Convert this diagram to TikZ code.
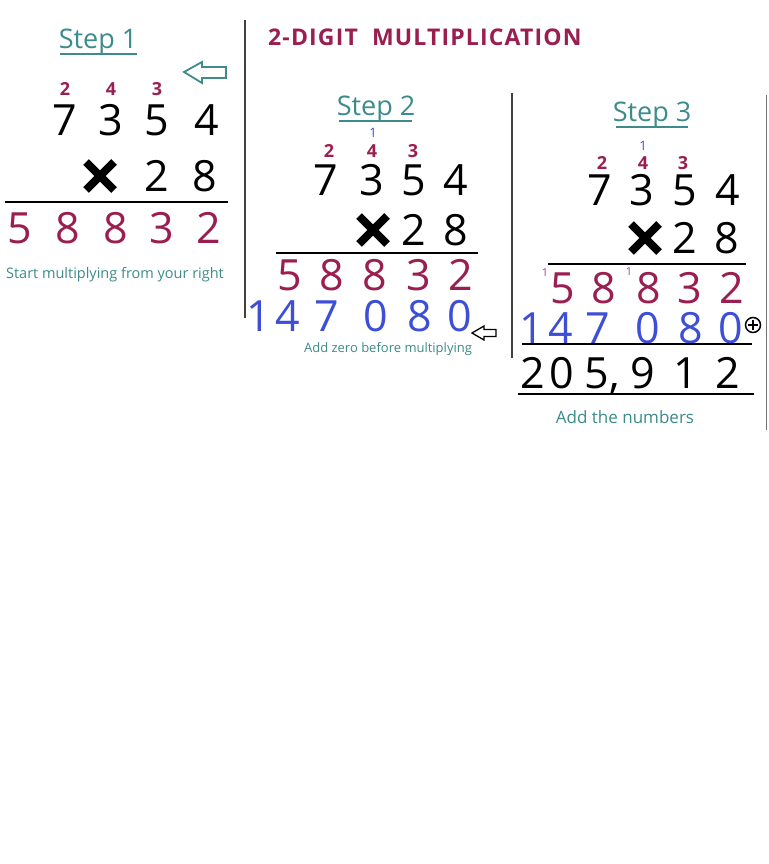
\documentclass[tikz,border=0pt]{standalone}
\usepackage{fontspec}
\setmainfont{Open Sans}
\usetikzlibrary{calc}
\definecolor{teal1}{HTML}{3D8B8B}
\definecolor{maroon1}{HTML}{9A1F50}
\definecolor{blue1}{HTML}{3C4FD6}
\definecolor{purp1}{HTML}{A040A0}
\begin{document}
\begin{tikzpicture}[x=1pt,y=-1pt,
  every node/.style={inner sep=0pt},
  big/.style={font=\fontsize{43}{43}\selectfont},
  bigr/.style={big,text=maroon1},
  bigb/.style={big,text=blue1},
  carry/.style={font=\fontsize{18}{18}\selectfont\bfseries,text=maroon1},
  carryb/.style={font=\fontsize{13}{13}\selectfont,text=blue1},
  steplbl/.style={font=\fontsize{27}{27}\selectfont,text=teal1},
  note/.style={font=\fontsize{14.5}{14.5}\selectfont,text=teal1},
  sep/.style={draw=black!75,line width=1.5pt},
  rule/.style={draw=black,line width=1.5pt},
  crossline/.style={line width=8pt,black},
  outarrow/.style={line width=1.8pt,line join=miter}]
\useasboundingbox (0,0) rectangle (768,864);
\fill[white] (0,0) rectangle (768,864);
% separators
\draw[sep] (245,20) -- (245,318);
\draw[sep] (512,93) -- (512,358);
\draw[draw=black!55,line width=1pt] (766,95) -- (766,430);
% title
\node[font=\fontsize{23}{23}\selectfont\bfseries\addfontfeatures{LetterSpace=5},text=maroon1,anchor=west] (title) at (268,37) {2-DIGIT\ \ MULTIPLICATION};

% ---------- Step 1 ----------
\node[steplbl] (s1) at (98,42) {Step 1};
\draw[teal1,line width=1.3pt] (60,54) -- (137,54);
\draw[outarrow,draw=teal1] (184,72) -- (202,62) -- (202,67) -- (226,67) -- (226,78) -- (202,78) -- (202,83) -- cycle;
\node[carry] (a1c1) at (65,89) {2};
\node[carry] (a1c2) at (111,89) {4};
\node[carry] (a1c3) at (157,89) {3};
\node[big] (a1d1) at (65,120) {7};
\node[big] (a1d2) at (111,120) {3};
\node[big] (a1d3) at (157,120) {5};
\node[big] (a1d4) at (207,120) {4};
\coordinate (x1) at (100,176);
\draw[crossline] ($(x1)+(-14,-14)$) -- ($(x1)+(14,14)$);
\draw[crossline] ($(x1)+(-14,14)$) -- ($(x1)+(14,-14)$);
\node[big] (a1m1) at (157,176) {2};
\node[big] (a1m2) at (205,176) {8};
\draw[rule] (5,202) -- (228,202);
\node[bigr] (a1r1) at (20,228) {5};
\node[bigr] (a1r2) at (68,228) {8};
\node[bigr] (a1r3) at (116,228) {8};
\node[bigr] (a1r4) at (162,228) {3};
\node[bigr] (a1r5) at (209,228) {2};
\node[note] (n1) at (115,275) {Start multiplying from your right};

% ---------- Step 2 ----------
\node[steplbl] (s2) at (376,109) {Step 2};
\draw[teal1,line width=1.3pt] (339,121) -- (412,121);
\node[carryb] (b1b) at (373,133) {1};
\node[carry] (b1c1) at (329,151) {2};
\node[carry] (b1c2) at (372,151) {4};
\node[carry] (b1c3) at (413,151) {3};
\node[big] (b1d1) at (326,180) {7};
\node[big] (b1d2) at (372,180) {3};
\node[big] (b1d3) at (414,180) {5};
\node[big] (b1d4) at (456,180) {4};
\coordinate (x2) at (373,230);
\draw[crossline] ($(x2)+(-14,-14)$) -- ($(x2)+(14,14)$);
\draw[crossline] ($(x2)+(-14,14)$) -- ($(x2)+(14,-14)$);
\node[big] (b1m1) at (414,230) {2};
\node[big] (b1m2) at (456,230) {8};
\draw[rule] (276,253) -- (478,253);
\node[bigr] (b1r1) at (290,275) {5};
\node[bigr] (b1r2) at (332,275) {8};
\node[bigr] (b1r3) at (375,275) {8};
\node[bigr] (b1r4) at (419,275) {3};
\node[bigr] (b1r5) at (461,275) {2};
\node[bigb] (b1s1) at (259,316) {1};
\node[bigb] (b1s2) at (288,316) {4};
\node[bigb] (b1s3) at (327,316) {7};
\node[bigb] (b1s4) at (376,316) {0};
\node[bigb] (b1s5) at (420,316) {8};
\node[bigb] (b1s6) at (460,316) {0};
\draw[outarrow,line width=1.3pt,draw=black] (472,333) -- (484,326) -- (484,329.5) -- (496,329.5) -- (496,336.5) -- (484,336.5) -- (484,340) -- cycle;
\node[note,font=\fontsize{13}{13}\selectfont] (n2) at (388,349) {Add zero before multiplying};

% ---------- Step 3 ----------
\node[steplbl] (s3) at (652,115) {Step 3};
\draw[teal1,line width=1.3pt] (616,127) -- (688,127);
\node[carryb] (c1b) at (643,146) {1};
\node[carry] (c1c1) at (602,163) {2};
\node[carry] (c1c2) at (643,163) {4};
\node[carry] (c1c3) at (683,163) {3};
\node[big] (c1d1) at (600,190) {7};
\node[big] (c1d2) at (642,190) {3};
\node[big] (c1d3) at (685,190) {5};
\node[big] (c1d4) at (728,190) {4};
\coordinate (x3) at (645,238);
\draw[crossline] ($(x3)+(-14,-14)$) -- ($(x3)+(14,14)$);
\draw[crossline] ($(x3)+(-14,14)$) -- ($(x3)+(14,-14)$);
\node[big] (c1m1) at (685,238) {2};
\node[big] (c1m2) at (727,238) {8};
\draw[rule] (548,264) -- (746,264);
\node[font=\fontsize{11}{11}\selectfont,text=purp1] (c1p1) at (545,273) {1};
\node[font=\fontsize{11}{11}\selectfont,text=purp1] (c1p2) at (629,272) {1};
\node[bigr] (c1r1) at (563,288) {5};
\node[bigr] (c1r2) at (604,288) {8};
\node[bigr] (c1r3) at (649,288) {8};
\node[bigr] (c1r4) at (690,288) {3};
\node[bigr] (c1r5) at (732,288) {2};
\node[bigb] (c1s1) at (532,328) {1};
\node[bigb] (c1s2) at (561,328) {4};
\node[bigb] (c1s3) at (598,328) {7};
\node[bigb] (c1s4) at (648,328) {0};
\node[bigb] (c1s5) at (691,328) {8};
\node[bigb] (c1s6) at (731,328) {0};
\node[draw=black,circle,line width=1.5pt,minimum size=15pt] (plus) at (753,325) {};
\draw[line width=1.5pt] ($(plus.west)+(3,0)$) -- ($(plus.east)+(-3,0)$);
\draw[line width=1.5pt] ($(plus.north)+(0,3)$) -- ($(plus.south)+(0,-3)$);
\draw[rule] (522,344) -- (752,344);
\node[big] (c1t1) at (533,373) {2};
\node[big] (c1t2) at (562,373) {0};
\node[big] (c1t3) at (597,373) {5};
\node[big,anchor=base] (c1tc) at (615,388) {,};
\node[big] (c1t4) at (643,373) {9};
\node[big] (c1t5) at (686,373) {1};
\node[big] (c1t6) at (728,373) {2};
\draw[rule] (518,394) -- (754,394);
\node[note,font=\fontsize{17}{17}\selectfont] (n3) at (625,417) {Add the numbers};
\end{tikzpicture}
\end{document}
